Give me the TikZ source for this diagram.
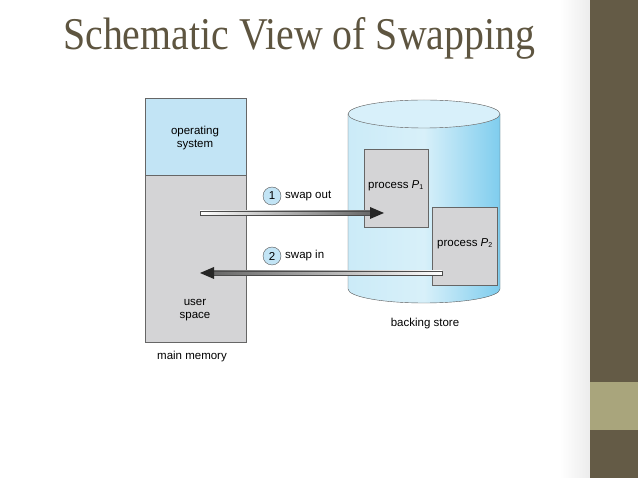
\documentclass[tikz,border=0pt]{standalone}
\usepackage{fontspec}
\setmainfont{Liberation Sans}
\newfontfamily\titlefont{Liberation Serif}
\usetikzlibrary{arrows.meta}
\definecolor{bar}{HTML}{645B46}
\definecolor{olive}{HTML}{A9A57C}
\definecolor{osblue}{HTML}{C2E4F5}
\definecolor{ugray}{HTML}{D4D4D6}
\definecolor{cyl}{HTML}{BEE6F6}
\definecolor{cyldark}{HTML}{7FCDEE}
\definecolor{titlec}{HTML}{5E5540}
\tikzset{
  lbl/.style={font=\fontsize{11.5}{13}\selectfont, align=center, inner sep=0pt},
  proc/.style={draw=gray!80!black, fill=ugray, line width=0.5pt},
  num/.style={circle, draw=gray!70!black, fill=osblue, minimum size=18pt, inner sep=0pt, font=\fontsize{11.5}{13}\selectfont},
}
\begin{document}
\begin{tikzpicture}[x=1pt,y=-1pt]
\useasboundingbox (0,0) rectangle (638,478);
\fill[white] (0,0) rectangle (638,478);
\shade[left color=white, right color=gray!15] (560,0) rectangle (590,478);
\fill[bar] (590,0) rectangle (638,478);
\fill[olive] (590,382) rectangle (638,430);
\node[anchor=base west, inner sep=0pt, text=titlec] (title) at (63,50) {\resizebox{472pt}{32pt}{\titlefont Schematic View of Swapping}};
% main memory
\draw[fill=osblue, draw=gray!80!black] (145,98) rectangle (246,175);
\draw[fill=ugray, draw=gray!80!black] (145,175) rectangle (246,342);
\node[lbl] (os) at (195,138) {operating\\system};
\node[lbl] (us) at (195,310) {user\\space};
\node[lbl] (mm) at (192,357) {main memory};
% cylinder
\shade[left color=cyl!80, right color=cyldark, middle color=white!40!cyl] (348,114) -- (348,289) arc[start angle=180,end angle=0,x radius=76,y radius=14] -- (500,114) arc[start angle=0,end angle=180,x radius=76,y radius=14];
\draw[gray!70!black] (348,114) -- (348,289) arc[start angle=180,end angle=0,x radius=76,y radius=14] -- (500,114);
\draw[gray!70!black, fill=cyl!60!white] (424,114) ellipse[x radius=76,y radius=14];
\node[lbl] (bs) at (425,324) {backing store};
% processes
\draw[proc] (364,149) rectangle (428,227);
\node[lbl, anchor=north] (p1) at (396,180) {process \textit{P}\textsubscript{\fontsize{7}{7}\selectfont 1}};
\draw[proc] (432,207) rectangle (497,285);
\node[lbl, anchor=north] (p2) at (465,238) {process \textit{P}\textsubscript{\fontsize{7}{7}\selectfont 2}};
% arrows
\shade[left color=white, right color=gray!80!black] (200,211) rectangle (372,215);
\draw[gray!60!black, line width=0.4pt] (200,211) rectangle (372,215);
\fill[gray!30!black] (384,213) -- (370,207) -- (370,219) -- cycle;
\shade[left color=gray!80!black, right color=white] (212,271) rectangle (442,275);
\draw[gray!60!black, line width=0.4pt] (212,271) rectangle (442,275);
\fill[gray!30!black] (200,273) -- (214,267) -- (214,279) -- cycle;
\node[num] (n1) at (272,196) {1};
\node[lbl, anchor=west] (so) at (285,196) {swap out};
\node[num] (n2) at (272,256) {2};
\node[lbl, anchor=west] (si) at (285,256) {swap in};
\end{tikzpicture}
\end{document}
